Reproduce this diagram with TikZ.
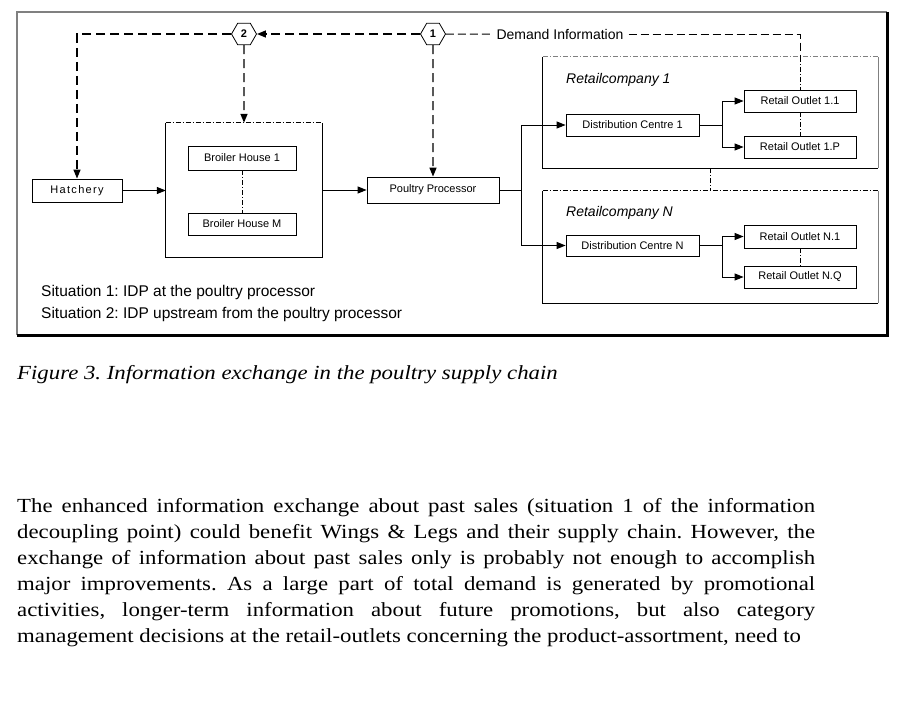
\documentclass[tikz,border=0pt]{standalone}
\usepackage{fontspec}
\setmainfont{Liberation Serif}
\setsansfont{Liberation Sans}
\newfontfamily\bodyfont{Liberation Serif}[FakeStretch=1.14]
\usetikzlibrary{shapes.geometric,arrows.meta,positioning}
\frenchspacing

\begin{document}
\begin{tikzpicture}[x=1pt,y=-1pt,
    box/.style={draw,line width=0.8pt,inner sep=0pt,minimum height=22pt,font=\sffamily\fontsize{11}{13}\selectfont},
    grp/.style={inner sep=0pt},
    hexa/.style={draw,line width=0.8pt,regular polygon,regular polygon sides=6,minimum size=25pt,inner sep=0pt,font=\sffamily\bfseries\fontsize{11}{13}\selectfont},
    info/.style={line width=1.4pt,dash pattern=on 9pt off 5pt},
    tip/.style={-{Triangle[length=9pt,width=7pt]}},
    flow/.style={line width=1pt,-{Triangle[length=9pt,width=7pt]}},
    demand/.style={line width=1pt,dash pattern=on 8pt off 4pt},
    ddline/.style={line width=0.8pt,dash pattern=on 5pt off 2pt on 1pt off 2pt},
    lbl/.style={font=\sffamily\fontsize{15.5}{18}\selectfont,inner sep=0pt,anchor=base west},
    para/.style={font=\bodyfont\fontsize{20}{26}\selectfont,inner sep=0pt,anchor=base west}]
  \useasboundingbox (0,0) rectangle (902,712);
  \draw[gray,line width=1.5pt] (17,335) -- (17,12) -- (887,12);
  \draw[line width=3pt] (17,335) -- (887,335) -- (887,12);

  \node[hexa] (hex2) at (244,34) {2};
  \node[hexa] (hex1) at (433,34) {1};
  \node[font=\sffamily\fontsize{14}{16}\selectfont,inner sep=0pt] (dem) at (560,34) {Demand Information};

  \node[box,minimum width=90pt,minimum height=23pt,font=\sffamily\fontsize{11}{13}\selectfont\addfontfeature{LetterSpace=12}] (hatch) at (77,190.5) {Hatchery};
  \node[grp,minimum width=156pt,minimum height=134pt] (farm) at (244,190) {};
  \node[box,minimum width=108pt,minimum height=24pt] (bh1) at (242,158) {Broiler House 1};
  \node[box,minimum width=108pt] (bhM) at (242,224) {Broiler House M};
  \node[box,minimum width=132pt,minimum height=26pt] (pp) at (433,190) {Poultry Processor};

  \node[grp,minimum width=335pt,minimum height=111pt] (rc1) at (710.5,112.5) {};
  \node[grp,minimum width=335pt,minimum height=112pt] (rcN) at (710.5,247) {};
  \node[font=\sffamily\itshape\fontsize{14}{16}\selectfont,inner sep=0pt,anchor=west] (rc1lbl) at (566,80) {Retailcompany 1};
  \node[font=\sffamily\itshape\fontsize{14}{16}\selectfont,inner sep=0pt,anchor=west] (rcNlbl) at (566,213) {Retailcompany N};
  \node[box,minimum width=133pt] (dc1) at (632.5,125) {Distribution Centre 1};
  \node[box,minimum width=133pt,minimum height=21pt] (dcN) at (632.5,245.5) {Distribution Centre N};
  \node[box,minimum width=112pt] (ro11) at (800,101) {Retail Outlet 1.1};
  \node[box,minimum width=112pt] (ro1P) at (800,147) {Retail Outlet 1.P};
  \node[box,minimum width=112pt,minimum height=23pt] (roN1) at (800,236.5) {Retail Outlet N.1};
  \node[box,minimum width=112pt] (roNQ) at (800,277) {Retail Outlet N.Q};

  \draw[line width=0.8pt] (farm.north west) -- (farm.south west) -- (farm.south east) -- (farm.north east);
  \draw[ddline] (farm.north west) -- (farm.north east);
  \draw[line width=0.8pt] (rc1.north west) -- (rc1.south west) -- (rc1.south east);
  \draw[gray,line width=0.8pt] (rc1.south east) -- (rc1.north east);
  \draw[ddline,gray] (rc1.north west) -- (rc1.north east);
  \draw[line width=0.8pt] (rcN.north west) -- (rcN.south west) -- (rcN.south east);
  \draw[gray,line width=0.8pt] (rcN.south east) -- (rcN.north east);
  \draw[ddline] (rcN.north west) -- (rcN.north east);

  \draw[info,tip] (hex1.west) -- (hex2.east);
  \draw[info,tip] (hex2.west) -| (hatch.north);
  \draw[info,tip] (hex2.south) -- (farm.north);
  \draw[info,tip] (hex1.south) -- (pp.north);
  \draw[demand] (hex1.east) -- ([xshift=-5pt]dem.west);
  \draw[demand] ([xshift=5pt]dem.east) -| (ro11.north |- rc1.north);
  \draw[ddline] (ro11.north |- rc1.north) -- (ro11.north);
  \draw[ddline] (ro11.south) -- (ro1P.north);
  \draw[ddline] (roN1.south) -- (roNQ.north);
  \draw[ddline] (rc1.south) -- (rcN.north);
  \draw[ddline] (bh1.south) -- (bhM.north);

  \draw[flow] (hatch.east) -- (hatch.east -| farm.west);
  \draw[flow] (farm.east |- pp.west) -- (pp.west);
  \draw[flow] (pp.east) -- ++(22,0) |- (dc1.west);
  \draw[flow] (pp.east) -- ++(22,0) |- (dcN.west);
  \draw[flow] (dc1.east) -- ++(23,0) |- (ro11.west);
  \draw[flow] (dc1.east) -- ++(23,0) |- (ro1P.west);
  \draw[flow] (dcN.east) -- ++(23,0) |- (roN1.west);
  \draw[flow] (dcN.east) -- ++(23,0) |- (roNQ.west);

  \node[lbl] (sit1) at (41,296) {Situation 1: IDP at the poultry processor};
  \node[lbl] (sit2) at (41,318) {Situation 2: IDP upstream from the poultry processor};

  \node[font=\bodyfont\itshape\fontsize{20}{24}\selectfont,inner sep=0pt,anchor=base west] (cap) at (17,379) {Figure 3. Information exchange in the poultry supply chain};

  \node[para] (l1) at (17,512) {\makebox[798pt][s]{The enhanced information exchange about past sales (situation 1 of the information}};
  \node[para] (l2) at (17,538) {\makebox[798pt][s]{decoupling point) could benefit Wings \& Legs and their supply chain. However, the}};
  \node[para] (l3) at (17,564) {\makebox[798pt][s]{exchange of information about past sales only is probably not enough to accomplish}};
  \node[para] (l4) at (17,590) {\makebox[798pt][s]{major improvements. As a large part of total demand is generated by promotional}};
  \node[para] (l5) at (17,616) {\makebox[798pt][s]{activities, longer-term information about future promotions, but also category}};
  \node[para] (l6) at (17,642) {management decisions at the retail-outlets concerning the product-assortment, need to};
\end{tikzpicture}
\end{document}
